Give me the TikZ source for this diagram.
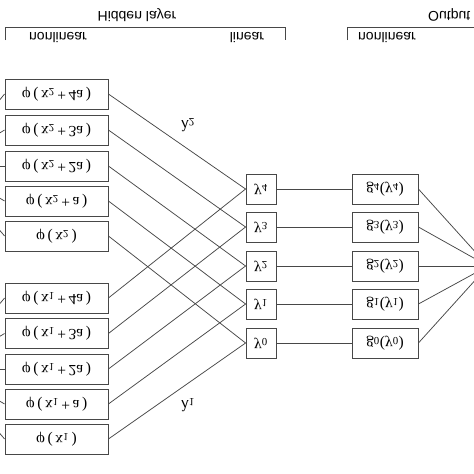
\documentclass[tikz,border=0pt]{standalone}
\usepackage{fontspec}
\setmainfont{Liberation Sans}
\newfontfamily\serf{Liberation Serif}
\newcommand{\sbs}[1]{\textsubscript{#1}}
\begin{document}
\begin{tikzpicture}[x=1pt,y=1pt,yscale=-1,
  every node/.append style={transform shape},
  ln/.style={draw=black!72, line width=0.75pt},
  bx/.style={draw=black!72, line width=0.85pt, inner sep=0pt, minimum height=30pt, font=\serf\fontsize{15.5}{17}\selectfont},
  phibox/.style={bx, minimum width=103pt},
  ybox/.style={bx, minimum width=30pt},
  gbox/.style={bx, minimum width=66pt},
  hdr/.style={font=\fontsize{14}{16}\selectfont, inner sep=0pt},
  wlab/.style={font=\serf\fontsize{16}{18}\selectfont, inner sep=0pt}]
\useasboundingbox (0,0) rectangle (474,474);
\clip (0,0) rectangle (474,474);

% header
\node[hdr] (hl) at (137,15) {Hidden layer};
\node[hdr, anchor=west] (ol) at (428,15) {Output layer};
\coordinate (b1a) at (5,40); \coordinate (b1b) at (5,27);
\coordinate (b1c) at (285,27); \coordinate (b1d) at (285,40);
\draw[ln] (b1a) -- (b1b) -- (b1c) -- (b1d);
\coordinate (b2a) at (347,40); \coordinate (b2b) at (347,27);
\coordinate (b2c) at (490,27);
\draw[ln] (b2a) -- (b2b) -- (b2c);
\node[hdr] (nl1) at (58,38) {nonlinear};
\node[hdr] (li1) at (247,38) {linear};
\node[hdr] (nl2) at (387,38) {nonlinear};

% phi boxes, x_2 group
\node[phibox] (a4) at (56.5,94)  {φ\,(\,x\sbs{2}\,+\,4a\,)};
\node[phibox] (a3) at (56.5,130) {φ\,(\,x\sbs{2}\,+\,3a\,)};
\node[phibox] (a2) at (56.5,166) {φ\,(\,x\sbs{2}\,+\,2a\,)};
\node[phibox] (a1) at (56.5,201) {φ\,(\,x\sbs{2}\,+\,a\,)};
\node[phibox] (a0) at (56.5,236) {φ\,(\,x\sbs{2}\,)};
% phi boxes, x_1 group
\node[phibox] (b4) at (56.5,298)   {φ\,(\,x\sbs{1}\,+\,4a\,)};
\node[phibox] (b3) at (56.5,333.5) {φ\,(\,x\sbs{1}\,+\,3a\,)};
\node[phibox] (b2) at (56.5,369)   {φ\,(\,x\sbs{1}\,+\,2a\,)};
\node[phibox] (b1) at (56.5,404)   {φ\,(\,x\sbs{1}\,+\,a\,)};
\node[phibox] (b0) at (56.5,439)   {φ\,(\,x\sbs{1}\,)};

% y boxes
\node[ybox] (y4) at (261,189) {y\sbs{4}};
\node[ybox] (y3) at (261,227) {y\sbs{3}};
\node[ybox] (y2) at (261,266) {y\sbs{2}};
\node[ybox] (y1) at (261,304) {y\sbs{1}};
\node[ybox] (y0) at (261,343) {y\sbs{0}};

% g boxes
\node[gbox] (g4) at (385,189) {g\sbs{4}(y\sbs{4})};
\node[gbox] (g3) at (385,227) {g\sbs{3}(y\sbs{3})};
\node[gbox] (g2) at (385,266) {g\sbs{2}(y\sbs{2})};
\node[gbox] (g1) at (385,304) {g\sbs{1}(y\sbs{1})};
\node[gbox] (g0) at (385,343) {g\sbs{0}(y\sbs{0})};

% weight labels
\node[wlab] (l2) at (188,125) {λ\sbs{2}};
\node[wlab] (l1) at (188,405) {λ\sbs{1}};

% inputs and output (outside the frame)
\coordinate (in2) at (-55,166);
\coordinate (in1) at (-55,369);
\coordinate (out) at (488,266);

\foreach \k in {0,...,4}{
  \draw[ln] (in2) -- (a\k.west);
  \draw[ln] (in1) -- (b\k.west);
  \draw[ln] (a\k.east) -- (y\k.west);
  \draw[ln] (b\k.east) -- (y\k.west);
  \draw[ln] (y\k.east) -- (g\k.west);
  \draw[ln] (g\k.east) -- (out);
}
\end{tikzpicture}
\end{document}
